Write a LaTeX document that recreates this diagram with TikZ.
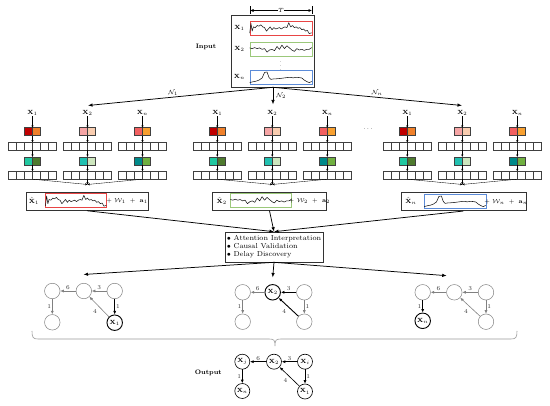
\documentclass[tikz,border=0pt]{standalone}
\usetikzlibrary{arrows.meta}
\definecolor{ca1}{HTML}{C00000}\definecolor{cb1}{HTML}{F0802A}
\definecolor{ca2}{HTML}{F6A5A5}\definecolor{cb2}{HTML}{F9CDB0}
\definecolor{ca3}{HTML}{F26060}\definecolor{cb3}{HTML}{F8A030}
\definecolor{cc1}{HTML}{20C8A0}\definecolor{cd1}{HTML}{4E7A2E}
\definecolor{cc2}{HTML}{20C0B0}\definecolor{cd2}{HTML}{CDE6BE}
\definecolor{cc3}{HTML}{008A8A}\definecolor{cd3}{HTML}{70B040}
\definecolor{sred}{HTML}{E84545}
\definecolor{sgreen}{HTML}{9BC87A}
\definecolor{sblue}{HTML}{5B8BD8}
\definecolor{ggray}{HTML}{808080}
\tikzset{
  serline/.style={line width=0.55pt,black!90,line join=round},
  pics/seriesR/.style={code={\draw[serline] (0.00,0.15) -- (0.02,0.85) -- (0.04,0.3) -- (0.06,0.6) -- (0.09,0.55) -- (0.12,0.7) -- (0.15,0.65) -- (0.18,0.75) -- (0.21,0.6) -- (0.24,0.55) -- (0.27,0.3) -- (0.30,0.45) -- (0.33,0.6) -- (0.36,0.4) -- (0.39,0.55) -- (0.42,0.45) -- (0.45,0.5) -- (0.48,0.55) -- (0.51,0.45) -- (0.54,0.55) -- (0.57,0.6) -- (0.60,0.55) -- (0.63,0.9) -- (0.66,0.6) -- (0.69,0.7) -- (0.72,0.55) -- (0.75,0.6) -- (0.78,0.5) -- (0.81,0.55) -- (0.84,0.4) -- (0.87,0.45) -- (0.90,0.3) -- (0.93,0.35) -- (0.96,0.12) -- (1.00,0.18);}},
  pics/seriesG/.style={code={\draw[serline] (0,0.6) -- (0.04,0.55) -- (0.08,0.62) -- (0.12,0.55) -- (0.16,0.6) -- (0.20,0.5) -- (0.24,0.55) -- (0.28,0.3) -- (0.32,0.45) -- (0.36,0.5) -- (0.40,0.4) -- (0.44,0.7) -- (0.48,0.5) -- (0.52,0.8) -- (0.56,0.55) -- (0.60,0.75) -- (0.64,0.6) -- (0.68,0.45) -- (0.72,0.35) -- (0.76,0.55) -- (0.80,0.45) -- (0.84,0.5) -- (0.88,0.42) -- (0.92,0.5) -- (0.96,0.5) -- (1.00,0.62);}},
  pics/seriesB/.style={code={\draw[serline] (0,0.12) -- (0.05,0.18) -- (0.1,0.22) -- (0.15,0.3) -- (0.2,0.45) -- (0.24,0.85) -- (0.28,0.88) -- (0.31,0.5) -- (0.34,0.35) -- (0.38,0.38) -- (0.45,0.4) -- (0.5,0.42) -- (0.55,0.45) -- (0.6,0.48) -- (0.65,0.5) -- (0.7,0.46) -- (0.75,0.5) -- (0.8,0.48) -- (0.84,0.45) -- (0.88,0.3) -- (0.92,0.2) -- (0.96,0.12) -- (1,0.2);}}
}
\begin{document}
\begin{tikzpicture}[x=1pt,y=-1pt,
  font=\fontsize{7}{8}\selectfont,
  >={Latex[length=4.5pt,width=3.5pt]},
  main/.style={->, line width=0.75pt},
  small/.style={-{Stealth[length=2.4pt,width=2.2pt]}, line width=0.35pt},
  lab/.style={font=\fontsize{6.5}{7}\selectfont, inner sep=0.5pt},
  cell/.style={draw=black!75, line width=0.45pt, minimum width=8pt, minimum height=8pt, inner sep=0pt, outer sep=0pt},
  cellrow/.style={cell, minimum width=48pt, path picture={\foreach \i in {1,...,5}{\draw[black!75,line width=0.45pt] ([xshift=\i*8pt]path picture bounding box.north west) -- ([xshift=\i*8pt]path picture bounding box.south west);}}},
  sbox/.style={draw=#1, line width=0.6pt, minimum width=62pt, minimum height=14pt, inner sep=0pt},
  obox/.style={draw=black!80, line width=0.6pt, minimum height=18.5pt, inner sep=0pt},
  gnode/.style={circle, draw=ggray, line width=0.5pt, minimum size=15.5pt, inner sep=0pt, font=\fontsize{6}{7}\selectfont},
  hnode/.style={circle, draw=black, line width=0.9pt, minimum size=15.5pt, inner sep=0pt, font=\fontsize{6}{7}\selectfont},
  onode/.style={circle, draw=black, line width=0.6pt, minimum size=15pt, inner sep=0pt, font=\fontsize{6}{7}\selectfont},
  gedge/.style={-{Latex[length=3.5pt,width=3pt]}, draw=ggray, line width=0.6pt},
  hedge/.style={-{Latex[length=3.5pt,width=3pt]}, draw=black, line width=0.9pt},
  oedge/.style={-{Latex[length=3.5pt,width=3pt]}, draw=black, line width=0.65pt},
  elab/.style={font=\fontsize{6}{7}\selectfont, inner sep=1pt, text=black!80},
  title/.style={font=\fontsize{6.5}{7}\selectfont\bfseries}
]
\useasboundingbox (0,0) rectangle (550,406);

% ---------- Input ----------
\node[title] (tin) at (206,47) {Input};
\node[draw=black!80, line width=0.6pt, minimum width=83pt, minimum height=71.5pt, inner sep=0pt] (inbox) at (273,51.25) {};
\node[sbox=sred] (s1) at (281,28) {};
\node[sbox=sgreen] (s2) at (281,49) {};
\node[sbox=sblue] (s3) at (281,77) {};
\pic[xscale=62,yscale=-14] at (s1.south west) {seriesR};
\pic[xscale=62,yscale=-14] at (s2.south west) {seriesG};
\pic[xscale=62,yscale=-14] at (s3.south west) {seriesB};
\node[lab] (x1) at (239.5,28) {$\mathbf{X}_1$};
\node[lab] (x2) at (239.5,49) {$\mathbf{X}_2$};
\node[lab] (xn) at (239.5,77) {$\mathbf{X}_n$};
\node[font=\fontsize{5}{5}\selectfont, inner sep=0pt] (vd) at (281,63) {$\vdots$};
% T dimension
\draw[line width=0.5pt] (250,6.5) -- (250,14.5);
\draw[line width=0.5pt] (312,6.5) -- (312,14.5);
\coordinate (tl) at (250,10.5);
\coordinate (tr) at (312,10.5);
\draw[{Latex[length=3.5pt,width=3pt]}-{Latex[length=3.5pt,width=3pt]}, line width=0.6pt] (tl) -- (tr);
\node[fill=white, inner sep=0.8pt, font=\fontsize{6.5}{7}\selectfont] (tlab) at (281,10) {$T$};

% arrows to groups
\coordinate (iL) at (88,105.5);
\coordinate (iM) at (273,104.5);
\coordinate (iR) at (462,105.5);
\draw[main] (inbox.south) -- (iL);
\draw[main] (inbox.south) -- (iM);
\draw[main] (inbox.south) -- (iR);
\node[lab] (n1) at (173,93) {$\mathcal{N}_1$};
\node[lab] (n2) at (281,96) {$\mathcal{N}_2$};
\node[lab] (nn) at (377,93) {$\mathcal{N}_n$};

% ---------- Groups ----------
\foreach \g/\gx in {1/87.5, 2/272.3, 3/462.3}{
  \foreach \c/\dx/\sub in {1/-55/1, 2/0/2, 3/55/n}{
    \pgfmathsetmacro\cx{\gx+\dx}
    \node[lab] (lab\g\c) at (\cx,113) {$\mathbf{X}_{\sub}$};
    \node[cell, fill=ca\c] (pa\g\c) at (\cx-4,131.7) {};
    \node[cell, fill=cb\c] (pb\g\c) at (\cx+4,131.7) {};
    \node[cellrow] (ra\g\c) at (\cx,146.5) {};
    \node[cell, fill=cc\c] (pc\g\c) at (\cx-4,160.8) {};
    \node[cell, fill=cd\c] (pd\g\c) at (\cx+4,160.8) {};
    \node[cellrow] (rb\g\c) at (\cx,175.2) {};
    \draw[small] (lab\g\c.south) -- (pa\g\c.north east);
    \draw[small] (pa\g\c.south east) -- (ra\g\c.north);
    \draw[small] (ra\g\c.south) -- (pc\g\c.north east);
    \draw[small] (pc\g\c.south east) -- (rb\g\c.north);
  }
  \coordinate (m\g) at (\gx,184.5);
  \draw[small] (rb\g1.south) -- (m\g);
  \draw[small] (rb\g2.south) -- (m\g);
  \draw[small] (rb\g3.south) -- (m\g);
}
\node[font=\fontsize{6}{7}\selectfont] (dots) at (368,129) {$\cdots$};

% ---------- Output boxes ----------
\node[obox, minimum width=122pt] (o1) at (87,201.2) {};
\node[sbox=sred, minimum width=61pt] (os1) at (76.2,200.6) {};
\pic[xscale=61,yscale=-14] at (os1.south west) {seriesR};
\node[lab] (h1) at (34,200.8) {$\hat{\mathbf{X}}_1$};
\node[lab] (w1) at (127,201.2) {$+\ \mathcal{W}_1\ +\ \mathbf{a}_1$};

\node[obox, minimum width=114pt] (o2) at (269.5,201.2) {};
\node[sbox=sgreen, minimum width=61pt] (os2) at (261.2,200.6) {};
\pic[xscale=61,yscale=-14] at (os2.south west) {seriesG};
\node[lab] (h2) at (221.7,200.8) {$\hat{\mathbf{X}}_2$};
\node[lab] (w2) at (309.3,201.2) {$+\ \mathcal{W}_2\ +\ \mathbf{a}_2$};

\node[obox, minimum width=125pt] (o3) at (463.3,201.5) {};
\node[sbox=sblue, minimum width=61.5pt] (os3) at (455.2,201) {};
\pic[xscale=61.5,yscale=-14] at (os3.south west) {seriesB};
\node[lab] (h3) at (411,201) {$\hat{\mathbf{X}}_n$};
\node[lab] (w3) at (506,201.5) {$+\ \mathcal{W}_n\ +\ \mathbf{a}_n$};

% ---------- Attention box ----------
\node[draw=black!80, line width=0.6pt, minimum width=98pt, minimum height=30pt, align=left, inner sep=1pt, font=\fontsize{7.2}{8}\selectfont] (att) at (274,247)
  {$\bullet$ Attention Interpretation\\ $\bullet$ Causal Validation\\ $\bullet$ Delay Discovery};
\draw[main] (o1.south) -- (att.north);
\draw[main] (o2.south) -- (att.north);
\draw[main] (o3.south) -- (att.north);

\coordinate (tL) at (83.5,274.5);
\coordinate (tM) at (272.7,277.5);
\coordinate (tR) at (446.7,275.7);
\draw[main] (att.south) -- (tL);
\draw[main] (att.south) -- (tM);
\draw[main] (att.south) -- (tR);

% ---------- Graph 1 ----------
\node[gnode] (LA) at (52.3,291) {};
\node[gnode] (LB) at (83.8,291) {};
\node[gnode] (LC) at (114.7,291) {};
\node[gnode] (LD) at (52.3,322.3) {};
\node[hnode] (LE) at (114.7,322.7) {$\mathbf{X}_1$};
\draw[gedge] (LB) -- node[elab, above] {6} (LA);
\draw[gedge] (LC) -- node[elab, above] {3} (LB);
\draw[gedge] (LA) -- node[elab, left] {1} (LD);
\draw[hedge] (LC) -- node[elab, right] {1} (LE);
\draw[gedge] (LE) -- node[elab, below left=1pt] {4} (LB);

% ---------- Graph 2 ----------
\node[gnode] (MA) at (242.7,292.3) {};
\node[hnode] (MB) at (272.7,292.3) {$\mathbf{X}_2$};
\node[gnode] (MC) at (304.3,292.3) {};
\node[gnode] (MD) at (242.7,321.7) {};
\node[gnode] (ME) at (304.3,321.7) {};
\draw[gedge] (MB) -- node[elab, above] {6} (MA);
\draw[hedge] (MC) -- node[elab, above] {3} (MB);
\draw[gedge] (MA) -- node[elab, left] {1} (MD);
\draw[gedge] (MC) -- node[elab, right] {1} (ME);
\draw[hedge] (ME) -- node[elab, below left=1pt] {4} (MB);

% ---------- Graph 3 ----------
\node[gnode] (RA) at (422.7,292.3) {};
\node[gnode] (RB) at (454.3,292.3) {};
\node[gnode] (RC) at (486,292.3) {};
\node[hnode] (RD) at (422.7,320.8) {$\mathbf{X}_n$};
\node[gnode] (RE) at (486,321.7) {};
\draw[gedge] (RB) -- node[elab, above] {6} (RA);
\draw[gedge] (RC) -- node[elab, above] {3} (RB);
\draw[hedge] (RA) -- node[elab, left] {1} (RD);
\draw[gedge] (RC) -- node[elab, right] {1} (RE);
\draw[gedge] (RE) -- node[elab, below left=1pt] {4} (RB);

% ---------- Brace ----------
\draw[ggray!80, line width=0.6pt] (32,331) .. controls (32,337.5) and (33,339) .. (38,339) -- (269,339)
  .. controls (274,339) and (275,340) .. (275,346) .. controls (275,340) and (276,339) .. (281,339)
  -- (511,339) .. controls (516,339) and (517,337.5) .. (517,331);

% ---------- Output ----------
\node[title] (tout) at (208.3,373.3) {Output};
\node[onode] (OJ) at (242.3,361.7) {$\mathbf{X}_j$};
\node[onode] (O2) at (274,361.7) {$\mathbf{X}_2$};
\node[onode] (OI) at (305,361.7) {$\mathbf{X}_i$};
\node[onode] (ON) at (242.3,391) {$\mathbf{X}_n$};
\node[onode] (O1) at (305,391.5) {$\mathbf{X}_1$};
\draw[oedge] (O2) -- node[elab, above] {6} (OJ);
\draw[oedge] (OI) -- node[elab, above] {3} (O2);
\draw[oedge] (OJ) -- node[elab, left] {1} (ON);
\draw[oedge] (OI) -- node[elab, right] {1} (O1);
\draw[oedge] (O1) -- node[elab, below left=1pt] {4} (O2);
\end{tikzpicture}
\end{document}
